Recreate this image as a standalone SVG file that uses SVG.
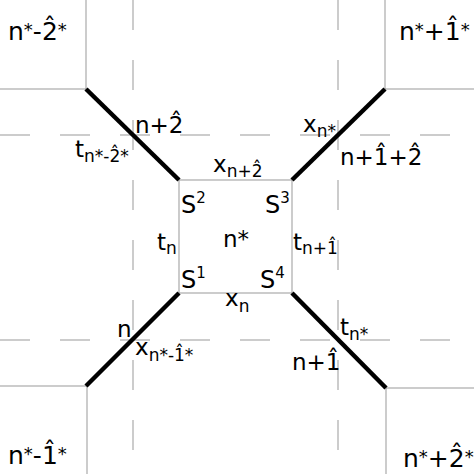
<svg xmlns="http://www.w3.org/2000/svg" width="474" height="474" viewBox="0 0 474 474">
<style>
.grid{stroke:#999;stroke-width:1;fill:none}
.dash{stroke:#999;stroke-width:1;fill:none;stroke-dasharray:30 30}
.sq{stroke:#aaa;stroke-width:1.2;fill:none}
.thick{stroke:#000;stroke-width:4.5;fill:none;stroke-linecap:butt}
text{font-family:"DejaVu Sans","Liberation Sans",sans-serif;fill:#000}
.big{font-size:25px}
.ast{font-size:18px}
.mid{font-size:23px}
.s{font-size:24px}
.sub{font-size:17px}
.sup{font-size:15px}
</style>
<rect width="474" height="474" fill="#fff"/>
<g id="grid">
<line class="dash" x1="133" y1="0" x2="133" y2="474"/>
<line class="dash" x1="338" y1="0" x2="338" y2="474"/>
<line class="dash" x1="0" y1="135" x2="474" y2="135"/>
<line class="dash" x1="0" y1="340" x2="474" y2="340"/>
<polyline class="grid" points="86,0 86,89 0,89"/>
<polyline class="grid" points="385,0 385,89 474,89"/>
<polyline class="grid" points="0,386 87,386 87,474"/>
<polyline class="grid" points="474,388 386,388 386,474"/>
</g>
<g id="plaquette">
<rect class="sq" x="179" y="180" width="113" height="113"/>
</g>
<g id="connectors">
<line class="thick" x1="179" y1="180" x2="86" y2="89"/>
<line class="thick" x1="292" y1="180" x2="385" y2="89"/>
<line class="thick" x1="179" y1="293" x2="86" y2="386"/>
<line class="thick" x1="292" y1="293" x2="386" y2="388"/>
</g>
<g id="labels">
<text class="big" x="8" y="40">n<tspan class="ast" dy="-4">*</tspan><tspan dy="4">-2̂</tspan><tspan class="ast" dy="-4">*</tspan></text>
<text class="big" x="399" y="40">n<tspan class="ast" dy="-4">*</tspan><tspan dy="4">+1̂</tspan><tspan class="ast" dy="-4">*</tspan></text>
<text class="big" x="8" y="464">n<tspan class="ast" dy="-4">*</tspan><tspan dy="4">-1̂</tspan><tspan class="ast" dy="-4">*</tspan></text>
<text class="big" x="403" y="467">n<tspan class="ast" dy="-4">*</tspan><tspan dy="4">+2̂</tspan><tspan class="ast" dy="-4">*</tspan></text>
<text class="mid" x="135" y="133">n+2̂</text>
<text class="mid" x="303" y="132">x<tspan class="sub" dy="5">n*</tspan></text>
<text class="mid" x="75" y="157">t<tspan class="sub" dy="5">n*-2̂*</tspan></text>
<text class="mid" x="340" y="165">n+1̂+2̂</text>
<text class="mid" x="213" y="172">x<tspan class="sub" dy="5">n+2̂</tspan></text>
<text class="s" x="181" y="213">S<tspan class="sup" dy="-10">2</tspan></text>
<text class="s" x="265" y="213">S<tspan class="sup" dy="-10">3</tspan></text>
<text class="mid" x="157" y="250">t<tspan class="sub" dy="4">n</tspan></text>
<text class="mid" x="223" y="247">n*</text>
<text class="mid" x="293" y="250">t<tspan class="sub" dy="4">n+1̂</tspan></text>
<text class="s" x="181" y="288">S<tspan class="sup" dy="-10">1</tspan></text>
<text class="s" x="260" y="288">S<tspan class="sup" dy="-10">4</tspan></text>
<text class="mid" x="225" y="306">x<tspan class="sub" dy="6">n</tspan></text>
<text class="mid" x="117" y="337">n</text>
<text class="mid" x="340" y="335">t<tspan class="sub" dy="5">n*</tspan></text>
<text class="mid" x="135" y="355">x<tspan class="sub" dy="6">n*-1̂*</tspan></text>
<text class="mid" x="292" y="370">n+1̂</text>
</g>
</svg>
